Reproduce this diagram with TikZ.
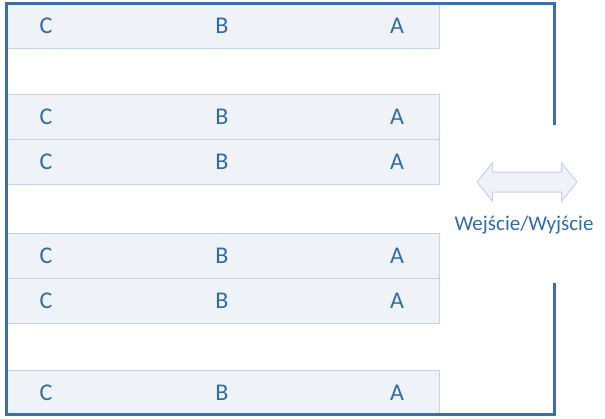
\documentclass[tikz,border=0pt]{standalone}
\usepackage{fontspec}
\setmainfont{Carlito}
\usetikzlibrary{shapes.arrows}
\definecolor{wallblue}{HTML}{3C6FA3}
\definecolor{txtblue}{HTML}{2F6CA8}
\definecolor{rowfill}{HTML}{EFF3F8}
\definecolor{rowline}{HTML}{C2D4E8}
\begin{document}
\begin{tikzpicture}
  [x=1pt,y=-1pt,
   every node/.style={text=txtblue,font=\fontsize{24}{24}\selectfont},
   row/.style={rectangle,draw=rowline,fill=rowfill,line width=1pt,minimum width=432pt,minimum height=45pt,inner sep=0pt},
   wall/.style={draw=wallblue,line width=3pt}]
  \useasboundingbox (0,0) rectangle (605,418);

  \foreach \n/\y in {1/26,2/116.5,3/161.5,4/255.5,5/300.5,6/393}
  {
    \node[row] (r\n) at (223,\y) {};
    \node (c\n) at (46,\y) {C};
    \node (b\n) at (222,\y) {B};
    \node (a\n) at (397,\y) {A};
  }

  \draw[wall] (554,125) |- (6,3) |- (554,414) -- (554,283);

  \node[double arrow,draw=rowline,fill=rowfill,line width=1pt,inner xsep=0pt,inner ysep=9.5pt,
        minimum height=100pt,double arrow head extend=9pt,
        double arrow tip angle=102] (io) at (527,182) {};
  \node[font=\fontsize{21}{21}\selectfont] (iolabel) at (524,225) {Wejście/Wyjście};
\end{tikzpicture}
\end{document}
